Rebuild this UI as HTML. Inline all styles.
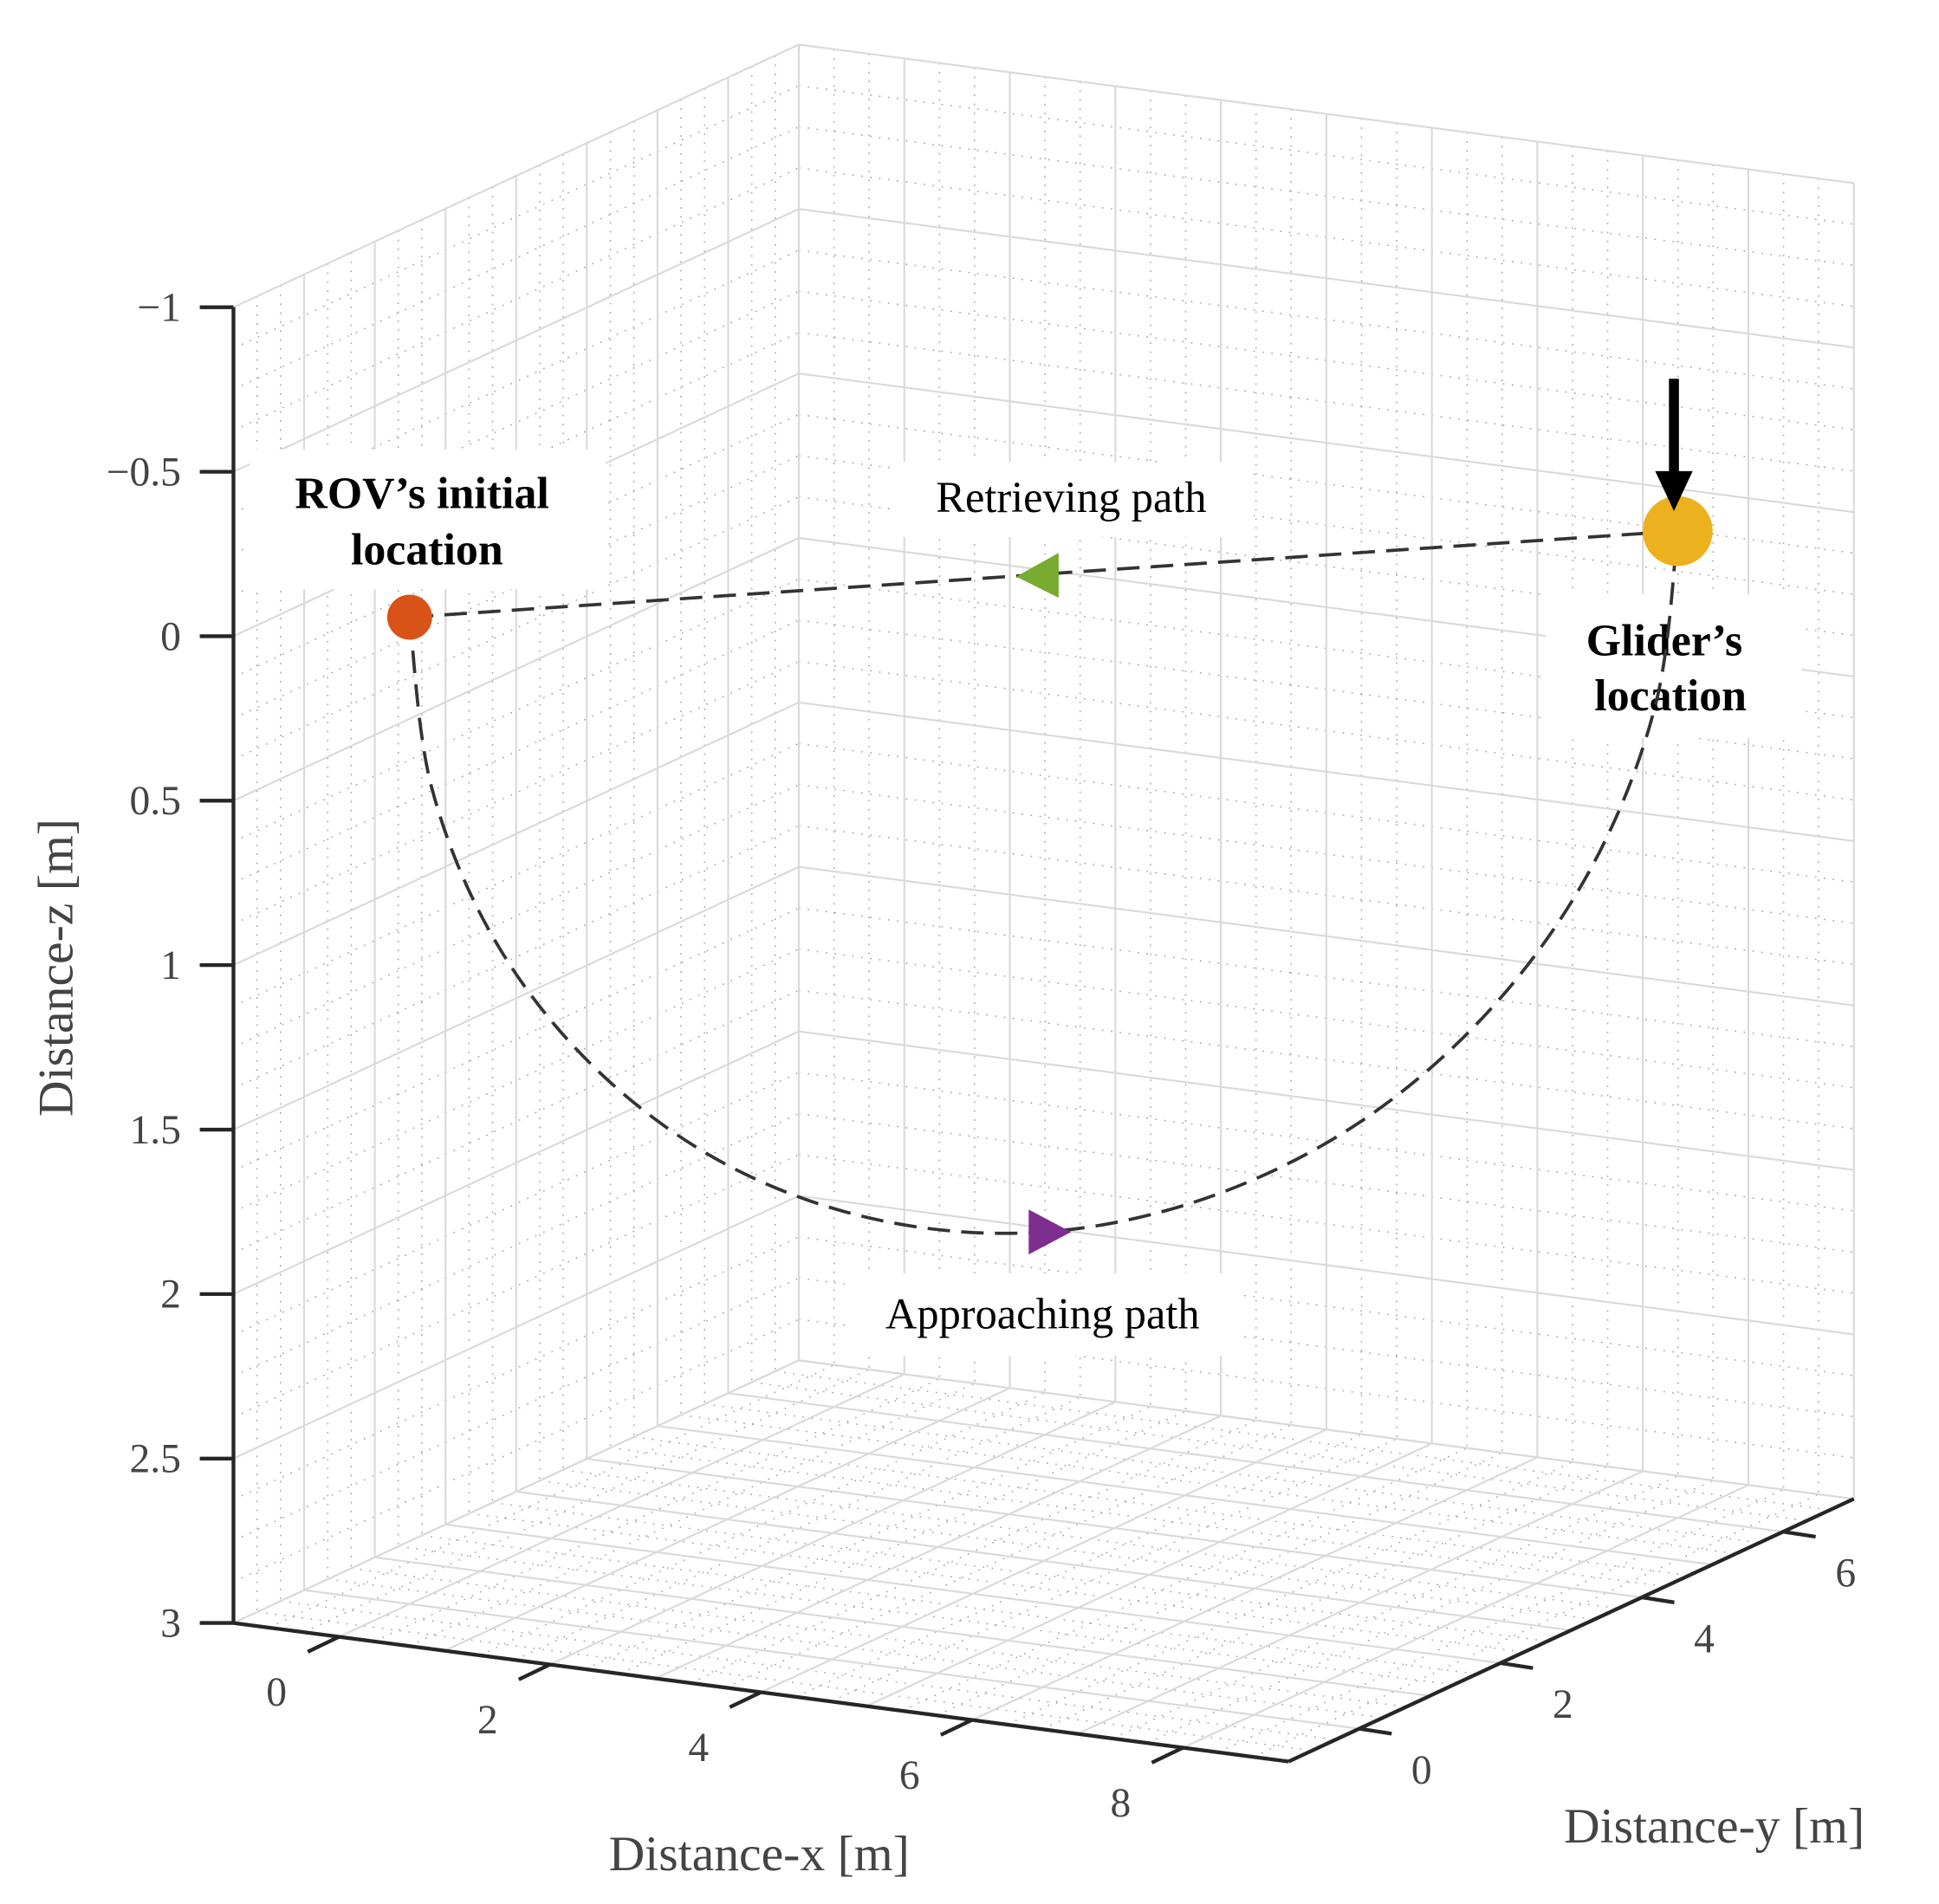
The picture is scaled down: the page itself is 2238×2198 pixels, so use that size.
<!DOCTYPE html>
<html><head><meta charset="utf-8"><style>
html,body{margin:0;padding:0;background:#fff;}
svg{display:block;}
text{font-family:"Liberation Serif",serif;}
</style></head><body>
<svg id="chart" width="2238" height="2198" viewBox="0 0 1553 1525" xmlns="http://www.w3.org/2000/svg">
<g id="grid"></g>
<g id="axes"></g>
<g id="labels"></g>
<g id="marks"></g>
</svg>
<script>
const xTicks=[0,2,4,6,8];
const yTicks=[0,2,4,6];
const zTicks=[-1,-0.5,0,0.5,1,1.5,2,2.5,3];
const zTickLabels=["\u22121","\u22120.5","0","0.5","1","1.5","2","2.5","3"];
const rovPos=[0,0,0];
const gliderPos=[8,6,0];
const retrieveMid=[4,3,0];
const approachX=[0,0.14,0.54,1.17,2,2.97,4,5.03,6,6.83,7.46,7.86,8];
const approachY=[0,0.1,0.4,0.88,1.5,2.22,3,3.78,4.5,5.12,5.6,5.9,6];
const approachZ=[0,0.52,1,1.41,1.73,1.93,2,1.93,1.73,1.41,1,0.52,0];
const approachMarker=[4,3,2];

const XMIN=-1,XMAX=9,YMIN=-1,YMAX=7,ZMIN=-1,ZMAX=3;
function P(x,y,z){return [187+(x-XMIN)*84.5+(y-YMIN)*56.6, 1300+(x-XMIN)*11.1-(y-YMIN)*26.3+(z-ZMAX)*263.5];}
const NS="http://www.w3.org/2000/svg";
function mk(tag,attrs,parent){const e=document.createElementNS(NS,tag);for(const k in attrs)e.setAttribute(k,attrs[k]);parent.appendChild(e);return e;}
function line(a,b,st,parent){return mk('line',Object.assign({x1:a[0].toFixed(1),y1:a[1].toFixed(1),x2:b[0].toFixed(1),y2:b[1].toFixed(1)},st),parent);}
const grid=document.getElementById('grid'),axes=document.getElementById('axes'),labels=document.getElementById('labels'),marks=document.getElementById('marks');
const minor={stroke:'#a8a8a8','stroke-width':1.1,'stroke-dasharray':'1.2 6'};
const major={stroke:'#dadada','stroke-width':1.5};
for(let x=XMIN;x<=XMAX+1e-6;x+=1/3){const l1=line(P(x,YMAX,ZMIN),P(x,YMAX,ZMAX),minor,grid);
 const l2=line(P(x,YMIN,ZMAX),P(x,YMAX,ZMAX),minor,grid);}
for(let y=YMIN;y<=YMAX+1e-6;y+=1/3){const l1=line(P(XMIN,y,ZMIN),P(XMIN,y,ZMAX),minor,grid);
 const l2=line(P(XMIN,y,ZMAX),P(XMAX,y,ZMAX),minor,grid);}
for(let z=ZMIN;z<=ZMAX+1e-6;z+=0.125){const l1=line(P(XMIN,YMIN,z),P(XMIN,YMAX,z),minor,grid);
 const l2=line(P(XMIN,YMAX,z),P(XMAX,YMAX,z),minor,grid);}
for(let x=XMIN;x<=XMAX;x+=1){const l1=line(P(x,YMAX,ZMIN),P(x,YMAX,ZMAX),major,grid);
 const l2=line(P(x,YMIN,ZMAX),P(x,YMAX,ZMAX),major,grid);}
for(let y=YMIN;y<=YMAX;y+=1){const l1=line(P(XMIN,y,ZMIN),P(XMIN,y,ZMAX),major,grid);
 const l2=line(P(XMIN,y,ZMAX),P(XMAX,y,ZMAX),major,grid);}
for(let z=ZMIN;z<=ZMAX+1e-6;z+=0.5){const l1=line(P(XMIN,YMIN,z),P(XMIN,YMAX,z),major,grid);
 const l2=line(P(XMIN,YMAX,z),P(XMAX,YMAX,z),major,grid);}
const ax={stroke:'#262626','stroke-width':3};
let a=line(P(XMIN,YMIN,ZMIN),P(XMIN,YMIN,ZMAX),ax,axes);
a=line(P(XMIN,YMIN,ZMAX),P(XMAX,YMIN,ZMAX),ax,axes);
a=line(P(XMAX,YMIN,ZMAX),P(XMAX,YMAX,ZMAX),ax,axes);
const tk={stroke:'#262626','stroke-width':3};
const tf='#444';
zTicks.forEach((z,i)=>{const p=P(XMIN,YMIN,z);const t=line([p[0]-27,p[1]],p,tk,axes);
 const tx=mk('text',{x:p[0]-42,y:p[1]+11,'text-anchor':'end','font-size':33,fill:tf},axes);tx.textContent=zTickLabels[i];});
xTicks.forEach(x=>{const p=P(x,YMIN,ZMAX);const t=line(p,[p[0]-25,p[1]+12],tk,axes);
 const tx=mk('text',{x:p[0]-50,y:p[1]+55,'text-anchor':'middle','font-size':33,fill:tf},axes);tx.textContent=x;});
yTicks.forEach(y=>{const p=P(XMAX,y,ZMAX);const t=line(p,[p[0]+26,p[1]+4],tk,axes);
 const tx=mk('text',{x:p[0]+50,y:p[1]+44,'text-anchor':'middle','font-size':33,fill:tf},axes);tx.textContent=y;});
let t=mk('text',{x:608,y:1498,'text-anchor':'middle','font-size':40,fill:tf},axes);t.textContent='Distance-x [m]';
t=mk('text',{x:1373,y:1476,'text-anchor':'middle','font-size':40,fill:tf,'xml:space':'preserve'},axes);t.textContent='Distance-y  [m]';
t=mk('text',{x:0,y:0,'text-anchor':'middle','font-size':40,fill:tf,transform:'translate(58,775) rotate(-90)'},axes);t.textContent='Distance-z [m]';
function box(x,y,w,h,name){const r=mk('rect',{x:x,y:y,width:w,height:h,fill:'#fff'},labels);}
box(200,360,285,112,'rov-label-box');box(718,370,286,60,'retrieve-label-box');box(1238,476,205,115,'glider-label-box');box(678,1020,316,66,'approach-label-box');
function lab(x,y,s,bold,name){const e=mk('text',{x:x,y:y,'text-anchor':'middle','font-size':bold?36:35,'font-weight':bold?'bold':'normal',fill:'#000'},labels);e.textContent=s;}
lab(338,407,'ROV\u2019s initial',true,'rov-label');lab(342,452,'location',true,'rov-label-line2');
lab(858,410,'Retrieving path',false,'retrieve-label');
lab(1333,525,'Glider\u2019s',true,'glider-label');lab(1338,569,'location',true,'glider-label-line2');
lab(835,1064,'Approaching path',false,'approach-label');
const dash={fill:'none',stroke:'#333','stroke-width':2.6,'stroke-dasharray':'18 9'};
const r0=P(...rovPos),g0=P(...gliderPos);
const rp=mk('path',Object.assign({d:`M${g0[0]},${g0[1]} L${r0[0]},${r0[1]}`},dash),marks);

const pts=approachX.map((x,i)=>P(x,approachY[i],approachZ[i]));
let d=`M${pts[0][0].toFixed(1)},${pts[0][1].toFixed(1)}`;
for(let i=0;i<pts.length-1;i++){const p0=pts[Math.max(0,i-1)],p1=pts[i],p2=pts[i+1],p3=pts[Math.min(pts.length-1,i+2)];
 const c1=[p1[0]+(p2[0]-p0[0])/6,p1[1]+(p2[1]-p0[1])/6],c2=[p2[0]-(p3[0]-p1[0])/6,p2[1]-(p3[1]-p1[1])/6];
 d+=` C${c1[0].toFixed(1)},${c1[1].toFixed(1)} ${c2[0].toFixed(1)},${c2[1].toFixed(1)} ${p2[0].toFixed(1)},${p2[1].toFixed(1)}`;}
const ap=mk('path',Object.assign({d:d},dash),marks);

const rov=mk('circle',{cx:r0[0],cy:r0[1],r:18,fill:'#d95319'},marks);

const gl=mk('circle',{cx:g0[0],cy:g0[1],r:28,fill:'#edb120'},marks);

const m=P(...retrieveMid);
const gt=mk('polygon',{points:`${m[0]-22},${m[1]+2} ${m[0]+12},${m[1]-17} ${m[0]+12},${m[1]+19}`,fill:'#77ac30'},marks);

const q=P(...approachMarker);
const pt=mk('polygon',{points:`${q[0]+22},${q[1]} ${q[0]-12},${q[1]-18} ${q[0]-12},${q[1]+18}`,fill:'#7e2f8e'},marks);

const arr=mk('g',{},marks);

mk('rect',{x:g0[0]-7,y:g0[1]-122,width:8,height:80,fill:'#000'},arr);
mk('polygon',{points:`${g0[0]-18},${g0[1]-48} ${g0[0]+12},${g0[1]-48} ${g0[0]-3},${g0[1]-16}`,fill:'#000'},arr);
</script>
</body></html>
